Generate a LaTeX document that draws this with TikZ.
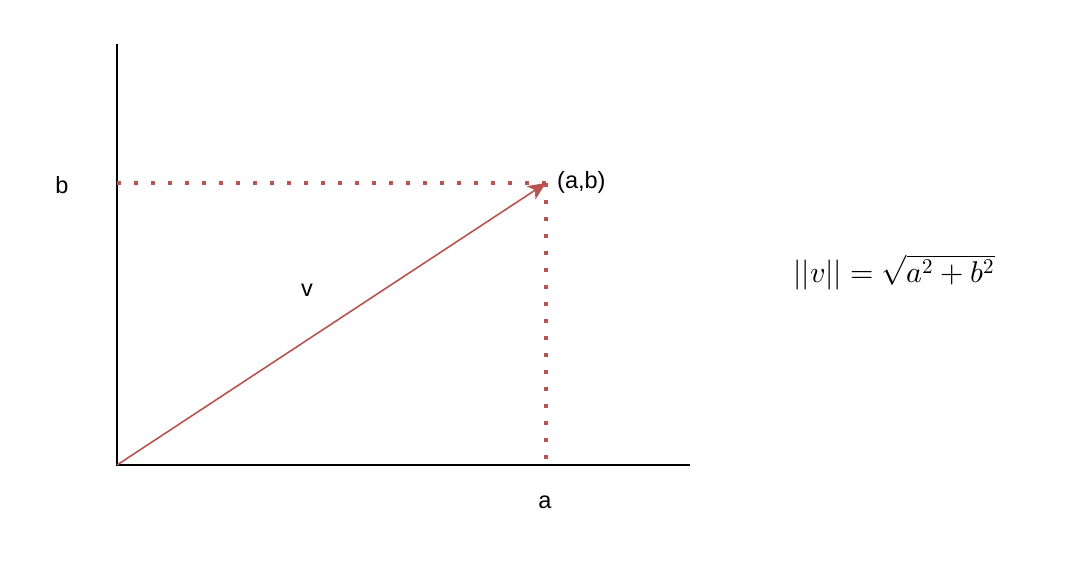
\documentclass[tikz,border=0pt]{standalone}
\usepackage{fontspec}
\setmainfont{Liberation Sans}
\usepackage{amsmath}
\usepackage{unicode-math}
\setmathfont{Latin Modern Math}
\usetikzlibrary{arrows.meta, positioning}
\definecolor{vecred}{HTML}{B85450}

\begin{document}
\begin{tikzpicture}[
        x=1pt, y=-1pt,
        axis line/.style={
            draw=black,
            line width=1.5pt
        },
        guide line/.style={
            draw=vecred,
            line width=4pt,
            dash pattern=on 4pt off 13pt
        },
        vec line/.style={
            draw=vecred,
            line width=1.6pt,
            -{Stealth[length=18pt, width=16pt, inset=5pt]}
        },
        plain label/.style={
            font=\fontsize{23.5}{28}\selectfont,
            inner sep=0pt
        }
    ]
        \useasboundingbox (0,0) rectangle (1082,560);

        % --- AXES ---
        \coordinate (O) at (117,465);
        \coordinate (ytop) at (117,44);
        \coordinate (xend) at (690,465);
        \draw[axis line] (ytop) -- (O) -- (xend);

        % --- POINT AND ITS PROJECTIONS ---
        \coordinate (P) at (546,183);
        \coordinate (Py) at (117,183);
        \coordinate (Px) at (546,465);
        \draw[guide line] (Py) -- (P);
        \draw[guide line] (P) -- (Px);

        % --- VECTOR ---
        \draw[vec line] (O) -- (P);

        % --- LABELS ---
        \node[plain label] (blabel) at (62,185) {b};
        \node[plain label] (alabel) at (545,502) {a};
        \node[plain label] (vlabel) at (307,290) {v};
        \node[plain label, anchor=west] (plabel) at (557,182) {(a,b)};
        \node[font=\fontsize{30}{34}\selectfont, inner sep=0pt] (norm) at (894,272)
            {$||v|| = \sqrt{a^2 + b^2}$};
    \end{tikzpicture}
\end{document}
